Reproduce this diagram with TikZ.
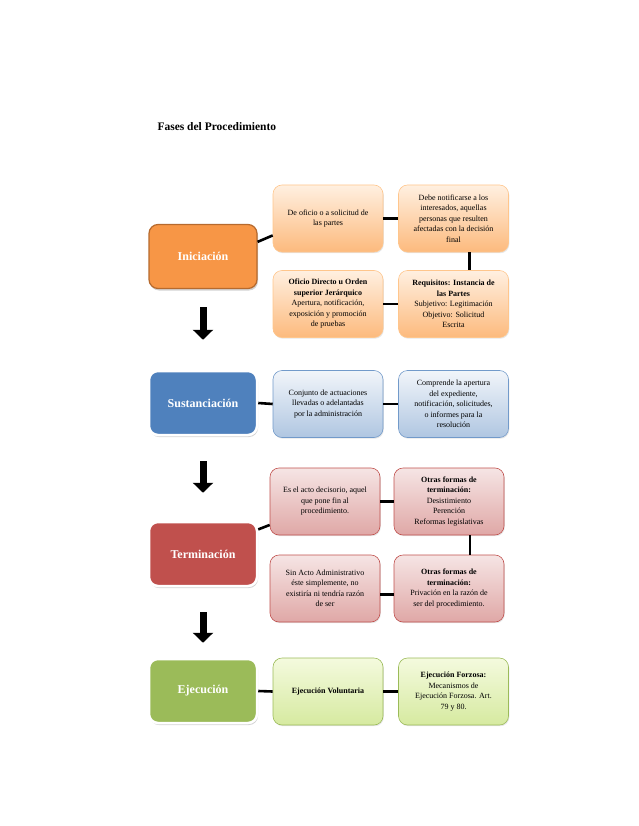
\documentclass[tikz,border=0pt]{standalone}
\usepackage{fontspec}
\setmainfont{Liberation Serif}
\usetikzlibrary{arrows.meta,shadows}
\definecolor{iniorange}{RGB}{247,150,70}
\definecolor{iniedge}{RGB}{182,106,46}
\definecolor{sustblue}{RGB}{79,129,189}
\definecolor{termred}{RGB}{192,80,77}
\definecolor{ejecgreen}{RGB}{155,187,89}
\definecolor{ejeclight}{RGB}{244,250,222}
\definecolor{ejecmid}{RGB}{214,234,160}

\tikzset{
  phase/.style={draw=white, line width=2.5pt, rounded corners=9pt, fill=#1,
    minimum width=108pt, minimum height=64pt, text=white,
    font=\fontsize{12}{14}\selectfont\bfseries,
    drop shadow={shadow xshift=1pt, shadow yshift=-2pt, opacity=0.35}},
  detail/.style={draw=#1, line width=0.6pt, rounded corners=9pt,
    minimum width=110pt, minimum height=67pt, align=center,
    font=\fontsize{8}{10.5}\selectfont,
    drop shadow={shadow xshift=0.8pt, shadow yshift=-1.2pt, opacity=0.2}},
  orangebox/.style={detail=orange!45, top color=orange!12, bottom color=orange!45!iniorange!60},
  bluebox/.style={detail=sustblue!80, top color=sustblue!8, bottom color=sustblue!45},
  redbox/.style={detail=termred, top color=termred!15, bottom color=termred!50},
  greenbox/.style={detail=ejecgreen, top color=ejeclight, bottom color=ejecmid},
  link/.style={line width=2.6pt, black},
  phasearrow/.style={line width=7pt, -{Triangle[width=20pt,length=10pt]}}
}

\begin{document}
\begin{tikzpicture}[x=1pt, y=-1pt]
    \useasboundingbox (0,0) rectangle (638,826);

    % Title
    \node[anchor=west, font=\fontsize{11.5}{13}\selectfont\bfseries] (title) at (154,127) {Fases del Procedimiento};

    % Iniciacion
    \node[phase=iniorange, draw=iniedge, line width=1.2pt] (inic) at (203,256.5) {Iniciación};
    \node[orangebox] (ofi) at (328,218.5) {De oficio o a solicitud de\\las partes};
    \node[orangebox] (debe) at (453.5,218.5) {Debe notificarse a los\\interesados, aquellas\\personas que resulten\\afectadas con la decisión\\final};
    \node[orangebox] (dir) at (328,304) {\textbf{Oficio Directo u Orden}\\\textbf{superior Jerárquico}\\Apertura, notificación,\\exposición y promoción\\de pruebas};
    \node[orangebox] (req) at (453.5,304) {\textbf{Requisitos: Instancia de}\\\textbf{las Partes}\\Subjetivo: Legitimación\\Objetivo: Solicitud\\Escrita};

    % Sustanciacion
    \node[phase=sustblue] (sust) at (203,403) {Sustanciación};
    \node[bluebox] (conj) at (328,404) {Conjunto de actuaciones\\llevadas o adelantadas\\por la administración};
    \node[bluebox] (comp) at (453.5,404) {Comprende la apertura\\del expediente,\\notificación, solicitudes,\\o informes para la\\resolución};

    % Terminacion
    \node[phase=termred] (term) at (203,554) {Terminación};
    \node[redbox] (acto) at (325,501.5) {Es el acto decisorio, aquel\\que pone fin al\\procedimiento.};
    \node[redbox] (otras) at (449,501.5) {\textbf{Otras formas de}\\\textbf{terminación:}\\Desistimiento\\Perención\\Reformas legislativas};
    \node[redbox] (sin) at (325,588.5) {Sin Acto Administrativo\\éste simplemente, no\\existiría ni tendría razón\\de ser};
    \node[redbox] (priv) at (449,588.5) {\textbf{Otras formas de}\\\textbf{terminación:}\\Privación en la razón de\\ser del procedimiento.};

    % Ejecucion
    \node[phase=ejecgreen] (ejec) at (203,691) {Ejecución};
    \node[greenbox] (vol) at (328,691.5) {\textbf{Ejecución Voluntaria}};
    \node[greenbox] (forz) at (453.5,691.5) {\textbf{Ejecución Forzosa:}\\Mecanismos de\\Ejecución Forzosa. Art.\\79 y 80.};

    % Links
    \draw[link] (inic.15) -- (ofi.197);
    \draw[link] (ofi.east) -- (debe.west);
    \draw[link] ([xshift=16pt]debe.south) -- ([xshift=16pt]req.north);
    \draw[link] (req.west) -- (dir.east);
    \draw[link] (sust.east) -- (conj.west);
    \draw[link] (conj.east) -- (comp.west);
    \draw[link] (term.24) -- (acto.203);
    \draw[link] (acto.east) -- (otras.west);
    \draw[link] ([xshift=21pt]otras.south) -- ([xshift=21pt]priv.north);
    \draw[link] ([yshift=-6pt]priv.west) -- ([yshift=-6pt]sin.east);
    \draw[link] (ejec.east) -- (vol.west);
    \draw[link] (vol.east) -- (forz.west);

    % Phase arrows
    \draw[phasearrow, shorten <=18pt, shorten >=30pt] (inic.south) -- (sust.north);
    \draw[phasearrow, shorten <=25pt, shorten >=28pt] (sust.south) -- (term.north);
    \draw[phasearrow, shorten <=25pt, shorten >=15pt] (term.south) -- (ejec.north);
\end{tikzpicture}
\end{document}
